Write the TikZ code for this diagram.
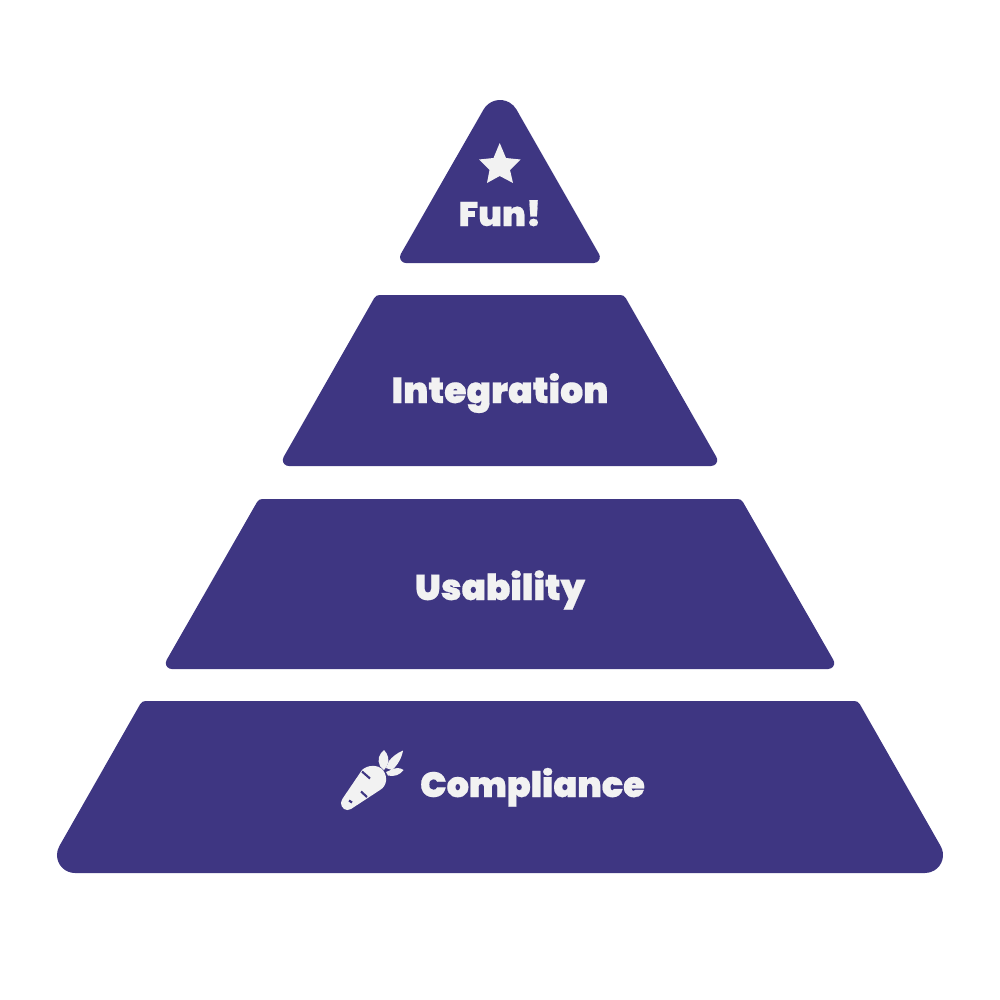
\documentclass[tikz,border=0pt]{standalone}
\usepackage{fontspec}
\newfontfamily\labfont[FakeBold=0.5]{Poppins Black}
\definecolor{tier}{HTML}{3E3682}
\definecolor{ink}{HTML}{F2F2F2}
\tikzset{
  px/.style={x=0.01cm,y=-0.01cm},
  tierfill/.style={fill=tier,draw=none},
  iconfill/.style={fill=ink,draw=none},
  slit/.style={draw=tier,line width=0.6pt},
  lab/.style={text=ink,anchor=base,inner sep=0pt},
  labsize/.style={font=\labfont\fontsize{#1}{12pt}\selectfont}
}
% half width at top, half width at bottom, top y, bottom y, top radius, bottom radius
\newcommand{\tierpath}[6]{%
  \pgfmathsetmacro{\tt}{0.577*#5}%
  \pgfmathsetmacro{\tb}{1.732*#6}%
  \pgfmathsetmacro{\xa}{500-#1+\tt}%
  \pgfmathsetmacro{\xb}{500+#2-0.5*\tb}%
  \pgfmathsetmacro{\yb}{#4-0.866*\tb}%
  \pgfmathsetmacro{\xc}{500-#2+\tb}%
  \pgfmathsetmacro{\xd}{500-#1-0.5*\tt+0.0}%
  \pgfmathsetmacro{\yd}{#3+0.866*\tt}%
  \path[tierfill] (\xa,#3) -- ({1000-\xa},#3) arc[start angle=-90,end angle=-30,radius=#5]
    -- (\xb,\yb) arc[start angle=-30,end angle=90,radius=#6]
    -- (\xc,#4) arc[start angle=90,end angle=210,radius=#6]
    -- (\xd,\yd) arc[start angle=210,end angle=270,radius=#5] -- cycle;%
}
\begin{document}
\begin{tikzpicture}[px]
\useasboundingbox (0,0) rectangle (1000,1000);
% apex tier
\path[tierfill] (483.55,109.5) arc[start angle=-150,end angle=-30,radius=19]
  -- (599.0,254) arc[start angle=-30,end angle=90,radius=6]
  -- (406.0,263) arc[start angle=90,end angle=210,radius=6] -- cycle;
% tiers
\tierpath{124}{221.6}{295}{466}{6}{6}
\tierpath{241.2}{338.6}{499}{669}{6}{6}
\tierpath{358}{456.2}{701}{873}{6}{18}
% star
\path[iconfill,line join=round] (499.7,143) -- (506,158) -- (520.5,159.5) -- (510,170) -- (513,183) -- (499.7,176) -- (487,183) -- (489.5,170) -- (479,159.5) -- (493.5,158) -- cycle;
% carrot
\path[iconfill] (343,798) -- (362,770) .. controls (367,765) and (378,764) .. (383,770)
  .. controls (388,777) and (387,786) .. (380,790)
  -- (351,809) .. controls (346,812) and (341,808) .. (341,803) .. controls (341,801) and (342,800) .. (343,798) -- cycle;
\path[iconfill] (380,766) .. controls (377,760) and (379,754) .. (384,750) .. controls (388,754) and (390,760) .. (387,766) -- (384,770) -- cycle;
\path[iconfill] (386,768) -- (389,761) .. controls (392,757) and (397,753) .. (403,750.5) .. controls (402,757) and (398,765) .. (392,770) -- cycle;
\path[iconfill] (386,772) -- (392,769.5) .. controls (396,767.5) and (400,767.5) .. (403.5,770) .. controls (400,775) and (394,777) .. (388,775.5) -- cycle;
\draw[slit] (362,771.5) -- (370,778.5);
\draw[slit] (361,791.5) -- (367,797);
\draw[slit] (349,800.5) -- (352,802.5);
% labels
\node[lab,labsize=9.7pt] (fun) at (500,226) {Fun!};
\node[lab,labsize=10.3pt] (integration) at (500,403) {Integration};
\node[lab,labsize=10.2pt] (usability) at (500,600) {Usability};
\node[lab,labsize=10pt] (compliance) at (532.5,797) {Compliance};
\end{tikzpicture}
\end{document}
